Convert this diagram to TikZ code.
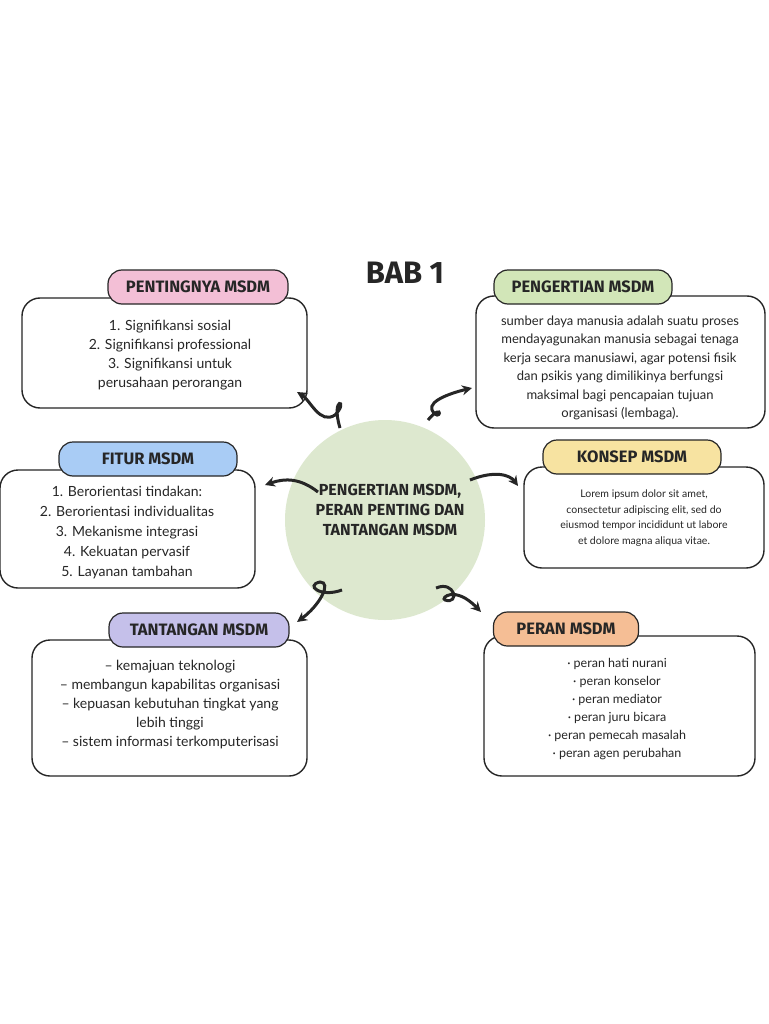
\documentclass[tikz,border=0pt]{standalone}
\usepackage{fontspec}
\setmainfont{Lato}
\newfontfamily\hd{Fira Sans}
\usetikzlibrary{arrows.meta}
\definecolor{cpink}{HTML}{F3BFD6}
\definecolor{cgreen}{HTML}{D2E6B8}
\definecolor{cblue}{HTML}{A9CCF5}
\definecolor{cyel}{HTML}{F7E3A1}
\definecolor{clav}{HTML}{C5C0EA}
\definecolor{corg}{HTML}{F5BE95}
\definecolor{ccirc}{HTML}{DDE8CF}
\definecolor{ink}{HTML}{262626}
\begin{document}
\begin{tikzpicture}[x=1pt,y=-1pt,
 box/.style={draw=ink,line width=1.4pt,rounded corners=18pt,fill=white},
 lab/.style={draw=ink,line width=1.2pt,rounded corners=14pt,minimum height=34pt,font=\hd\bfseries\fontsize{16.5}{16.5}\selectfont,text=ink},
 txt/.style={align=center,text=ink,font=\fontsize{14}{19}\selectfont},
 arr/.style={-{Stealth[length=10pt,width=10pt]},line width=3pt,ink}]
\useasboundingbox (0,0) rectangle (768,1024);
\fill[white] (0,0) rectangle (768,1024);
\node[text=ink,font=\hd\bfseries\fontsize{31}{31}\selectfont] (title) at (405,273) {BAB 1};
\fill[ccirc] (385,520) circle (100);
\node[txt,font=\hd\bfseries\fontsize{16}{20}\selectfont] (c) at (390,510) {PENGERTIAN MSDM,\\PERAN PENTING DAN\\TANTANGAN MSDM};
% boxes
\draw[box] (22,298) rectangle (307,408);
\node[txt] (t1) at (170,355) {1. Signifikansi sosial\\2. Signifikansi professional\\3. Signifikansi untuk\\perusahaan perorangan};
\node[lab,fill=cpink,minimum width=180pt] (l1) at (198,287) {PENTINGNYA MSDM};
\draw[box] (476,296) rectangle (765,428);
\node[txt,font=\fontsize{13}{18.5}\selectfont] (t2) at (620,368) {sumber daya manusia adalah suatu proses\\mendayagunakan manusia sebagai tenaga\\kerja secara manusiawi, agar potensi fisik\\dan psikis yang dimilikinya berfungsi\\maksimal bagi pencapaian tujuan\\organisasi (lembaga).};
\node[lab,fill=cgreen,minimum width=178pt] (l2) at (583,287) {PENGERTIAN MSDM};
\draw[box] (0,470) rectangle (255,588);
\node[txt,font=\fontsize{14}{20}\selectfont] (t3) at (127,533) {1. Berorientasi tindakan:\\2. Berorientasi individualitas\\3. Mekanisme integrasi\\4. Kekuatan pervasif\\5. Layanan tambahan};
\node[lab,fill=cblue,minimum width=178pt] (l3) at (148,459) {FITUR MSDM};
\draw[box] (524,467) rectangle (764,568);
\node[txt,font=\fontsize{10.5}{15.5}\selectfont] (t4) at (644,518) {Lorem ipsum dolor sit amet,\\consectetur adipiscing elit, sed do\\eiusmod tempor incididunt ut labore\\et dolore magna aliqua vitae.};
\node[lab,fill=cyel,minimum width=178pt] (l4) at (632,457) {KONSEP MSDM};
\draw[box] (32,640) rectangle (307,776);
\node[txt] (t5) at (170,705) {-- kemajuan teknologi\\-- membangun kapabilitas organisasi\\-- kepuasan kebutuhan tingkat yang\\lebih tinggi\\-- sistem informasi terkomputerisasi};
\node[lab,fill=clav,minimum width=180pt] (l5) at (199,630) {TANTANGAN MSDM};
\draw[box] (484,636) rectangle (755,776);
\node[txt,font=\fontsize{12.5}{18}\selectfont] (t6) at (617,709) {· peran hati nurani\\· peran konselor\\· peran mediator\\· peran juru bicara\\· peran pemecah masalah\\· peran agen perubahan};
\node[lab,fill=corg,minimum width=145pt] (l6) at (566,629) {PERAN MSDM};
% arrows
\coordinate (a1s) at (340,428); \coordinate (a1e) at (297,392);
\coordinate (a2s) at (428,420); \coordinate (a2e) at (472,388);
\coordinate (a3s) at (318,492); \coordinate (a3e) at (265,485);
\coordinate (a4s) at (470,480); \coordinate (a4e) at (518,486);
\coordinate (a5s) at (342,590); \coordinate (a5e) at (297,622);
\coordinate (a6s) at (436,588); \coordinate (a6e) at (481,612);
\draw[arr] (a1s) .. controls (330,395) and (350,400) .. (335,415) .. controls (320,425) and (310,400) .. (a1e);
\draw[arr] (a2s) .. controls (445,400) and (440,425) .. (432,410) .. controls (428,400) and (455,392) .. (a2e);
\draw[arr] (a3s) .. controls (300,478) and (285,478) .. (a3e);
\draw[arr] (a4s) .. controls (495,470) and (510,475) .. (a4e);
\draw[arr] (a5s) .. controls (320,598) and (305,585) .. (320,582) .. controls (332,582) and (320,605) .. (a5e);
\draw[arr] (a6s) .. controls (455,580) and (460,605) .. (445,600) .. controls (440,598) and (455,585) .. (a6e);
\end{tikzpicture}
\end{document}
